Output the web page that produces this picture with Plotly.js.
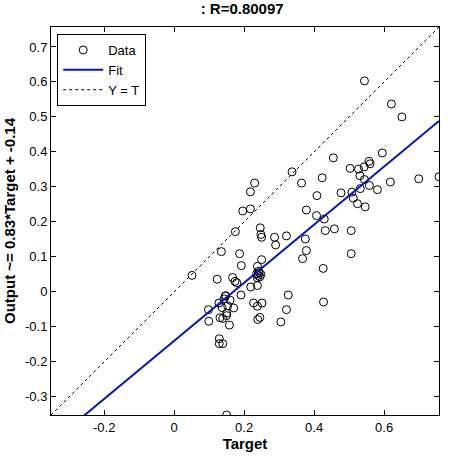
<!DOCTYPE html>
<html>
<head>
<meta charset="utf-8">
<script src="https://cdn.plot.ly/plotly-3.0.1.min.js"></script>
<style>
  html, body { margin: 0; padding: 0; background: #fff; }
  #plot { width: 456px; height: 457px; }
</style>
</head>
<body>
<div id="plot"></div>
<script>
// values
var target = [0.544, 0.621, 0.651, 0.595, 0.455, 0.337, 0.364, 0.423, 0.408, 0.477,
  0.503, 0.527, 0.543, 0.557, 0.560, 0.531, 0.544, 0.532, 0.558, 0.581,
  0.618, 0.699, 0.757, 0.508, 0.512, 0.524, 0.546, 0.378, 0.407, 0.429,
  0.432, 0.458, 0.506, 0.506, 0.375, 0.378, 0.367, 0.426, 0.321, 0.287,
  0.290, 0.246, 0.248, 0.250, 0.175, 0.196, 0.218, 0.218, 0.230, 0.135,
  0.187, 0.192, 0.250, 0.051, 0.123, 0.167, 0.174, 0.238, 0.241, 0.236,
  0.240, 0.245, 0.238, 0.243, 0.248, 0.219, 0.238, 0.179, 0.191, 0.326,
  0.427, 0.321, 0.305, 0.239, 0.245, 0.238, 0.227, 0.251, 0.170, 0.158,
  0.098, 0.099, 0.128, 0.131, 0.139, 0.147, 0.160, 0.150, 0.150, 0.146,
  0.129, 0.129, 0.139, 0.150, 0.143, 0.137, 0.153];
var output = [0.603, 0.537, 0.500, 0.397, 0.383, 0.343, 0.311, 0.326, 0.275, 0.283,
  0.353, 0.351, 0.357, 0.373, 0.366, 0.332, 0.321, 0.295, 0.304, 0.292,
  0.314, 0.323, 0.329, 0.285, 0.268, 0.252, 0.243, 0.234, 0.218, 0.208,
  0.175, 0.180, 0.175, 0.109, 0.151, 0.118, 0.095, 0.067, 0.160, 0.156,
  0.134, 0.183, 0.164, 0.156, 0.172, 0.231, 0.237, 0.286, 0.311, 0.115,
  0.109, 0.075, 0.092, 0.047, 0.036, 0.041, 0.030, 0.073, 0.059, 0.052,
  0.047, 0.043, 0.040, 0.055, 0.050, 0.014, 0.018, 0.026, -0.009, -0.009,
  -0.029, -0.051, -0.086, -0.079, -0.073, -0.041, -0.032, -0.032, -0.046, -0.095,
  -0.051, -0.084, -0.032, -0.074, -0.076, -0.011, -0.024, -0.061, -0.068, -0.012,
  -0.134, -0.148, -0.148, -0.352, -0.020, -0.045, -0.040];

var slope = 0.83;
var intercept = -0.14;
var R = 0.80097;
var lims = [-0.352, 0.757];

var fitY = lims.map(function (v) { return slope * v + intercept; });

var data = [
  {
    x: target, y: output, type: 'scatter', mode: 'markers', name: 'Data',
    marker: { symbol: 'circle-open', size: 8, color: '#000', line: { width: 1, color: '#000' } }
  },
  {
    x: lims, y: fitY, type: 'scatter', mode: 'lines', name: 'Fit',
    line: { color: '#0a14b4', width: 2 }
  },
  {
    x: lims, y: lims, type: 'scatter', mode: 'lines', name: 'Y = T',
    line: { color: '#000', width: 1, dash: '3px,3px' }
  }
];

var axisBase = {
  range: lims, showgrid: false, zeroline: false,
  showline: true, mirror: 'ticks', linecolor: '#000', linewidth: 1,
  ticks: 'inside', ticklen: 5, tickcolor: '#000',
  tickfont: { family: 'Liberation Sans, Arial, sans-serif', size: 13, color: '#000' }
};

var layout = {
  width: 456, height: 457,
  margin: { l: 51, r: 17, t: 27, b: 42 },
  paper_bgcolor: '#fff', plot_bgcolor: '#fff',
  font: { family: 'Liberation Sans, Arial, sans-serif', color: '#000' },
  title: {
    text: '<b>: R=' + R + '</b>',
    font: { size: 15 }, x: 0.531, xanchor: 'center', y: 0.992, yanchor: 'top'
  },
  xaxis: Object.assign({}, axisBase, {
    tickvals: [-0.2, 0, 0.2, 0.4, 0.6],
    ticktext: ['-0.2', '0', '0.2', '0.4', '0.6'],
    title: { text: '<b>Target</b>', font: { size: 15 }, standoff: 3 }
  }),
  yaxis: Object.assign({}, axisBase, {
    tickvals: [-0.3, -0.2, -0.1, 0, 0.1, 0.2, 0.3, 0.4, 0.5, 0.6, 0.7],
    ticktext: ['-0.3', '-0.2', '-0.1', '0', '0.1', '0.2', '0.3', '0.4', '0.5', '0.6', '0.7'],
    title: { text: '<b>Output ~= ' + slope + '*Target + ' + intercept + '</b>', font: { size: 15 }, standoff: 5 }
  }),
  showlegend: true,
  legend: {
    x: 0.016, y: 0.982, xanchor: 'left', yanchor: 'top',
    bgcolor: '#fff', bordercolor: '#000', borderwidth: 1,
    font: { size: 13 }, tracegroupgap: 0, itemwidth: 40
  }
};

Plotly.newPlot('plot', data, layout, { displayModeBar: false, staticPlot: true });
</script>
</body>
</html>
